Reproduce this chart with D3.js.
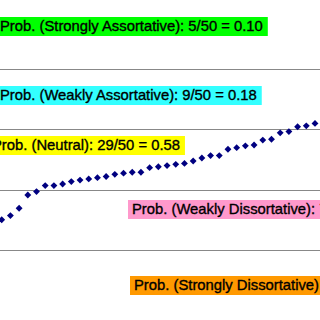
<!DOCTYPE html>
<html>
<head>
<meta charset="utf-8">
<script src="https://cdn.jsdelivr.net/npm/d3@7"></script>
<style>
  html, body { margin: 0; padding: 0; background: #fff; }
  svg { display: block; }
</style>
</head>
<body>
<svg width="320" height="320"></svg>
<script>
// ranks of the networks visible in the crop
var ranks = d3.range(1, 38);

// assortativity values
var values = [-0.199, -0.185, -0.161, -0.117, -0.106, -0.086, -0.086, -0.081, -0.073, -0.068,
  -0.064, -0.060, -0.056, -0.049, -0.045, -0.042, -0.042, -0.027, -0.024, -0.020,
  -0.016, -0.013, -0.005, 0.005, 0.013, 0.013, 0.034, 0.039, 0.045, 0.048,
  0.064, 0.067, 0.088, 0.092, 0.108, 0.111, 0.119];

// horizontal grid lines (category thresholds)
var gridValues = [-0.3, -0.1, 0.1, 0.3];

var labelTexts = [
  "Prob. (Strongly Assortative): 5/50 = 0.10",
  "Prob. (Weakly Assortative): 9/50 = 0.18",
  "Prob. (Neutral): 29/50 = 0.58",
  "Prob. (Weakly Dissortative): 7/50 = 0.14",
  "Prob. (Strongly Dissortative): 0/50 = 0.00"
];
var labelColors = ["#00ff00", "#33ffff", "#ffff00", "#ff99cc", "#ff9900"];

var svg = d3.select("svg"),
    width = +svg.attr("width"),
    height = +svg.attr("height");

var x = d3.scaleLinear()
    .domain([1, 37])
    .range([1.7, 315]);

var y = d3.scaleLinear()
    .domain([-0.5, 0.5])
    .range([311, 8]);

// grid
svg.append("g")
    .attr("class", "grid")
  .selectAll("line")
  .data(gridValues)
  .enter().append("line")
    .attr("x1", 0)
    .attr("x2", width)
    .attr("y1", function(d) { return Math.round(y(d)) + 0.5; })
    .attr("y2", function(d) { return Math.round(y(d)) + 0.5; })
    .attr("stroke", "#888")
    .attr("stroke-width", 1.2);

// label placement (left x, box top y) in pixels
var labelPos = [[0, 17], [0, 86], [-8, 136], [132, 200], [134, 276]];

var labels = svg.append("g")
  .selectAll("g")
  .data(labelTexts)
  .enter().append("g")
    .attr("transform", function(d, i) { return "translate(" + labelPos[i][0] + "," + labelPos[i][1] + ")"; });

labels.append("rect")
    .attr("fill", function(d, i) { return labelColors[i]; });

labels.append("text")
    .attr("x", 0)
    .attr("y", 14.4)
    .style("font", "14.8px 'Liberation Sans', Arial, sans-serif")
    .attr("fill", "#000")
    .attr("stroke", "#000")
    .attr("stroke-width", 0.35)
    .text(function(d) { return d; });

labels.each(function() {
  var g = d3.select(this),
      w = g.select("text").node().getComputedTextLength();
  g.select("rect")
      .attr("x", -4)
      .attr("y", 0)
      .attr("width", w + 9)
      .attr("height", 19);
});

// points
var diamond = d3.symbol().type(d3.symbolDiamond2).size(30);

svg.append("g")
    .attr("class", "points")
  .selectAll("path")
  .data(values)
  .enter().append("path")
    .attr("d", diamond)
    .attr("transform", function(d, i) { return "translate(" + x(ranks[i]) + "," + y(d) + ")"; })
    .attr("fill", "#000080");
</script>
</body>
</html>
